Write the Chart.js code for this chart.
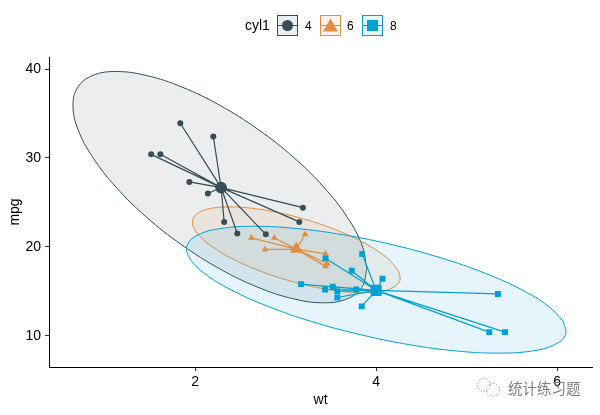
<!DOCTYPE html>
<html><head><meta charset="utf-8">
<style>html,body{margin:0;padding:0;background:#fff}#w{width:600px;height:415px}</style>
<script src="https://cdn.jsdelivr.net/npm/chart.js@4"></script></head>
<body><div id="w"><canvas id="c" width="600" height="415"></canvas></div>
<script>
const groups = ['4','6','8'];
const colors = ['#374E55','#DF8F44','#00A1D5'];
const xTicks = [2,4,6];
const yTicks = [10,20,30,40];
const wt4 = [2.32,3.19,3.15,2.2,1.615,1.835,2.465,1.935,2.14,1.513,2.78];
const mpg4 = [22.8,24.4,22.8,32.4,30.4,33.9,21.5,27.3,26,30.4,21.4];
const wt6 = [2.62,2.875,3.215,3.46,3.44,3.44,2.77];
const mpg6 = [21,21,21.4,18.1,19.2,17.8,19.7];
const wt8 = [3.44,3.57,4.07,3.73,3.78,5.25,5.424,5.345,3.52,3.435,3.84,3.845,3.17,3.57];
const mpg8 = [18.7,14.3,16.4,17.3,15.2,10.4,10.4,14.7,15.5,15.2,13.3,19.2,15.8,15];
const centerX = [2.286,3.117,3.999];
const centerY = [26.66,19.74,15.1];
const ell4x = [3.897,3.842,3.679,3.421,3.085,2.693,2.273,1.853,1.461,1.125,0.867,0.704,0.649,0.704,0.867,1.125,1.461,1.853,2.273,2.693,3.085,3.421,3.679,3.842];
const ell4y = [17.51,20.21,23.34,26.71,30.08,33.21,35.91,37.97,39.27,39.72,39.27,37.97,35.91,33.21,30.08,26.71,23.34,20.21,17.51,15.45,14.15,13.7,14.15,15.45];
const ell6x = [4.249,4.158,3.997,3.777,3.511,3.218,2.919,2.633,2.38,2.178,2.039,1.974,1.987,2.078,2.239,2.459,2.725,3.018,3.317,3.603,3.856,4.058,4.197,4.262];
const ell6y = [17.24,18.41,19.66,20.91,22.08,23.08,23.84,24.33,24.49,24.33,23.84,23.08,22.08,20.91,19.66,18.41,17.24,16.24,15.48,14.99,14.83,14.99,15.48,16.24];
const ell8x = [6.068,5.903,5.609,5.205,4.72,4.185,3.638,3.115,2.653,2.283,2.031,1.912,1.936,2.101,2.395,2.799,3.284,3.819,4.366,4.889,5.351,5.721,5.973,6.092];
const ell8y = [11.6,13.32,15.17,17.02,18.74,20.22,21.35,22.06,22.31,22.06,21.35,20.22,18.74,17.02,15.17,13.32,11.6,10.13,8.99,8.28,8.04,8.28,8.99,10.13];

const FONT = '"Liberation Sans", Arial, sans-serif';
const alpha = (hex,a)=>{const n=parseInt(hex.slice(1),16);return `rgba(${n>>16},${(n>>8)&255},${n&255},${a})`;};
const zip = (a,b)=>a.map((v,i)=>({x:v,y:b[i]}));
const closed = (a,b)=>{const p=zip(a,b);p.push(p[0]);return p;};
const styles = ['circle','triangle','rect'];
const ptR = [3,3.9,4.2];
const cR = [5.8,7.5,7.8];
const wts=[wt4,wt6,wt8], mpgs=[mpg4,mpg6,mpg8];
const ellX=[ell4x,ell6x,ell8x], ellY=[ell4y,ell6y,ell8y];

const datasets=[];
let ord=100;
groups.forEach((g,i)=>{
  datasets.push({label:'ellipse '+g,data:closed(ellX[i],ellY[i]),showLine:true,borderColor:colors[i],borderWidth:1,
    backgroundColor:alpha(colors[i],0.1),fill:'shape',tension:0.4,pointRadius:0,order:ord--});
});
groups.forEach((g,i)=>{
  const star=[];
  wts[i].forEach((w,k)=>{star.push({x:centerX[i],y:centerY[i]});star.push({x:w,y:mpgs[i][k]});});
  datasets.push({label:'spokes '+g,data:star,showLine:true,borderColor:colors[i],borderWidth:1.2,fill:false,tension:0,pointRadius:0,order:ord--});
  datasets.push({label:'points '+g,data:zip(wts[i],mpgs[i]),showLine:false,pointStyle:styles[i],pointRadius:ptR[i],
    backgroundColor:colors[i],borderColor:colors[i],borderWidth:0,order:ord--});
  datasets.push({label:'center '+g,data:[{x:centerX[i],y:centerY[i]}],showLine:false,pointStyle:styles[i],pointRadius:cR[i],
    backgroundColor:colors[i],borderColor:colors[i],borderWidth:0,order:ord--});
});

const decor={id:'decor',afterDraw(chart){
  const c=chart.ctx;c.save();
  c.textBaseline='middle';c.fillStyle='#000';c.textAlign='left';
  c.font='14px '+FONT;c.fillText('cyl1',245,26);
  const boxX=[277.5,320.5,362.5];const digX=[305,347,390];
  groups.forEach((g,i)=>{
    const x=boxX[i],y=15.5,s=20;
    c.fillStyle=alpha(colors[i],0.1);c.fillRect(x,y,s,s);
    c.strokeStyle=colors[i];c.lineWidth=1;c.strokeRect(x,y,s,s);
    c.beginPath();c.moveTo(x,y+s/2);c.lineTo(x+s,y+s/2);c.stroke();
    c.fillStyle=colors[i];
    const mx=x+s/2,my=y+s/2;
    c.beginPath();
    if(i===0){c.arc(mx,my,5.5,0,Math.PI*2);}
    else if(i===1){c.moveTo(mx,my-7);c.lineTo(mx+7.5,my+6);c.lineTo(mx-7.5,my+6);c.closePath();}
    else{c.rect(mx-5.5,my-5.5,11,11);}
    c.fill();
    c.fillStyle='#000';c.font='12px '+FONT;c.fillText(g,digX[i],26.5);
  });
  // watermark
  c.strokeStyle='#a8a8a8';c.lineWidth=1;c.setLineDash([1.5,1.5]);
  c.beginPath();c.arc(484,385,6.5,0,Math.PI*2);c.stroke();
  c.beginPath();c.arc(493,390,6.5,0,Math.PI*2);c.stroke();
  c.setLineDash([]);
  c.fillStyle='#808080';c.font='14.5px "Noto Sans CJK SC"';c.textAlign='left';
  c.fillText('统计练习题',508,388);
  c.restore();
}};

new Chart(document.getElementById('c'),{
  type:'scatter',
  data:{datasets},
  plugins:[decor],
  options:{
    responsive:false,animation:false,devicePixelRatio:1,
    layout:{padding:{left:0,right:6,top:57,bottom:0}},
    plugins:{legend:{display:false},tooltip:{enabled:false}},
    elements:{line:{capBezierPoints:false}},
    scales:{
      x:{type:'linear',min:0.384,max:6.387,
        afterBuildTicks(s){s.ticks=xTicks.map(v=>({value:v}));},
        afterFit(s){s.height=48;},
        grid:{drawOnChartArea:false,drawTicks:true,tickLength:4,color:'#333',tickWidth:1},
        border:{display:true,color:'#000',width:1},
        ticks:{color:'#000',font:{family:FONT,size:14},padding:3,maxRotation:0,callback:v=>String(v)},
        title:{display:true,text:'wt',color:'#000',font:{family:FONT,size:14},padding:{top:4,bottom:6}}
      },
      y:{type:'linear',min:6.48,max:41.35,
        afterBuildTicks(s){s.ticks=yTicks.map(v=>({value:v}));},
        afterFit(s){s.width=49;},
        grid:{drawOnChartArea:false,drawTicks:true,tickLength:4,color:'#333',tickWidth:1},
        border:{display:true,color:'#000',width:1},
        ticks:{color:'#000',font:{family:FONT,size:14},padding:4,callback:v=>String(v)},
        title:{display:true,text:'mpg',color:'#000',font:{family:FONT,size:14},padding:{top:7,bottom:0}}
      }
    }
  }
});
</script></body></html>
